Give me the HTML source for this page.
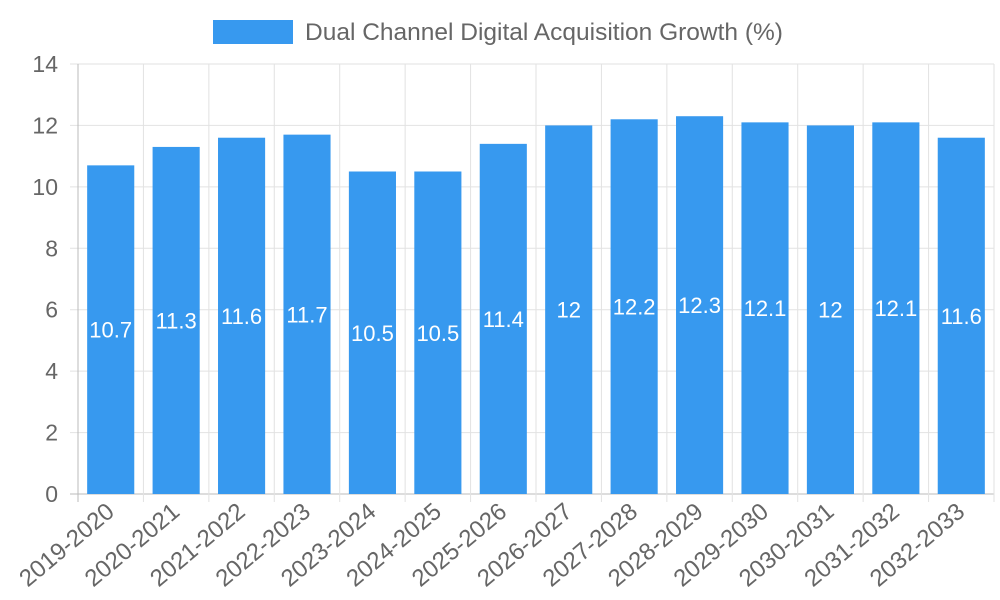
<!DOCTYPE html>
<html><head><meta charset="utf-8"><style>
html,body{margin:0;padding:0;background:#fff;}
svg{display:block;font-family:"Liberation Sans",sans-serif;}
</style></head><body>
<svg id="chart" width="1000" height="600">
<g>
<rect x="213" y="20" width="80" height="24" fill="#3799ef"></rect>
<text x="305" y="40" font-size="24.5" fill="#666">Dual Channel Digital Acquisition Growth (%)</text>
</g>
<g id="grid"></g>
<g id="bars"></g>
<g id="axes"></g>
</svg>
<script>
const categories=["2019-2020","2020-2021","2021-2022","2022-2023","2023-2024","2024-2025","2025-2026","2026-2027","2027-2028","2028-2029","2029-2030","2030-2031","2031-2032","2032-2033"];
const values=[10.7,11.3,11.6,11.7,10.5,10.5,11.4,12,12.2,12.3,12.1,12,12.1,11.6];
const yTicks=[0,2,4,6,8,10,12,14];
const NS="http://www.w3.org/2000/svg";
const L=78,R=994,T=64,B=494,yMax=14;
const y=v=>B-(v/yMax)*(B-T);
const band=(R-L)/categories.length;
const x=i=>L+band*i;
function mk(tag,attrs,parent){const e=document.createElementNS(NS,tag);for(const k in attrs)e.setAttribute(k,attrs[k]);parent.appendChild(e);return e;}
const grid=document.getElementById('grid'),bars=document.getElementById('bars'),axes=document.getElementById('axes');
yTicks.forEach(t=>{
 const g=mk('line',{x1:70,x2:R,y1:y(t),y2:y(t),stroke:t===0?'#bbb':'#e2e2e2','stroke-width':1},grid);
 
 
 const lb=mk('text',{x:58,y:y(t)+8,'font-size':23,fill:'#666','text-anchor':'end'},axes);
 lb.textContent=t;
 
 
});
for(let i=0;i<=categories.length;i++){
 const g=mk('line',{x1:x(i),x2:x(i),y1:T,y2:B+8,stroke:i===0?'#bbb':'#e2e2e2','stroke-width':1},grid);
 
 
}
categories.forEach((c,i)=>{
 const bw=band*0.72,bx=x(i)+(band-bw)/2;
 const r=mk('rect',{x:bx,y:y(values[i]),width:bw,height:B-y(values[i]),fill:'#3799ef'},bars);
 
 
 const vt=mk('text',{x:x(i)+band/2,y:(y(values[i])+B)/2+8,'font-size':22,fill:'#fff','text-anchor':'middle'},bars);
 vt.textContent=values[i];
 
 
 const cx=x(i)+band/2+5,cy=B+20;
 const xl=mk('text',{x:cx,y:cy,'font-size':24,fill:'#666','text-anchor':'end',transform:`rotate(-40 ${cx} ${cy})`},axes);
 xl.textContent=c;
 
 
});
</script>
</body></html>
